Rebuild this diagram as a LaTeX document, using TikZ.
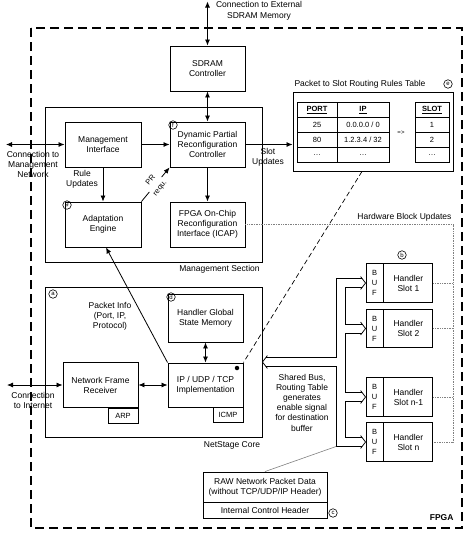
\documentclass[tikz,border=0pt]{standalone}
\usepackage{fontspec}
\setmainfont{Liberation Sans}
\usetikzlibrary{arrows.meta}
\newcommand{\colhead}[1]{\underline{\textbf{#1}}}

\begin{document}
\begin{tikzpicture}[x=1pt, y=-1pt,
            every node/.style={font=\fontsize{8.5}{10}\selectfont},
            box/.style={draw, line width=0.9pt, align=center, inner sep=1pt},
            subbox/.style={draw, line width=0.9pt, minimum width=30pt, minimum height=15pt, inner sep=0pt, font=\fontsize{7.5}{9}\selectfont},
            tag/.style={circle, draw, line width=0.6pt, inner sep=0pt, minimum size=8.5pt, font=\fontsize{6}{6}\selectfont},
            cell/.style={draw, line width=0.7pt, minimum height=15pt, inner sep=0pt, font=\fontsize{7.5}{8}\selectfont},
            link/.style={line width=0.8pt, -{Latex[length=6pt,width=5pt]}},
            link both/.style={line width=0.8pt, {Latex[length=6pt,width=5pt]}-{Latex[length=6pt,width=5pt]}},
            bus/.style={line width=0.75pt},
            hw update/.style={gray, densely dotted, line width=0.7pt},
            rule guide/.style={dash pattern=on 5pt off 3pt, line width=0.7pt},
            fpga/.style={dash pattern=on 9pt off 5pt, line width=1.2pt}]

        \useasboundingbox (0,0) rectangle (474,544);
        \draw[fpga] (31,28) rectangle (462,528);
        \node[font=\fontsize{8.5}{10}\selectfont\bfseries, anchor=east] (fpgalbl) at (457,518) {FPGA};

        \coordinate (sdramext) at (207.5,1.5);
        \coordinate (mnet) at (6,144.5);
        \coordinate (inet) at (7,385);
        \node[align=center, font=\fontsize{8.5}{11}\selectfont] (sdramlbl) at (259,10.5) {Connection to External\\SDRAM Memory};
        \node[box, minimum width=75pt, minimum height=45pt] (sdram) at (207.5,68.5) {SDRAM\\Controller};

        \node[box, minimum width=217pt, minimum height=155pt] (msec) at (153.5,184.5) {};
        \node (mseclbl) at (219.5,269) {Management Section};
        \node[box, minimum width=76pt, minimum height=45pt] (mi) at (103,144.5) {Management\\Interface};
        \node[box, minimum width=75pt, minimum height=45pt] (dpr) at (207.5,144.5) {Dynamic Partial\\Reconfiguration\\Controller};
        \node[box, minimum width=76pt, minimum height=45pt] (ae) at (103,224.5) {Adaptation\\Engine};
        \node[box, minimum width=75pt, minimum height=45pt] (icap) at (207.5,224.5) {FPGA On-Chip\\Reconfiguration\\Interface (ICAP)};
        \node[tag] (tagf) at (173,125) {f};
        \node[tag] (tagg) at (67,205) {g};
        \node[align=center] (mnetlbl) at (33,164) {Connection to\\Management\\Network};
        \node[align=center] (rulelbl) at (82,179) {Rule\\Updates};
        \node[align=center] (slotlbl) at (268,157) {Slot\\Updates};

        \node[box, minimum width=217pt, minimum height=150pt] (core) at (153.5,362) {};
        \node (corelbl) at (232,445) {NetStage Core};
        \node[box, minimum width=75pt, minimum height=48pt] (hgsm) at (205.5,318) {Handler Global\\State Memory};
        \node[box, minimum width=75pt, minimum height=44pt] (ip) at (205.5,385) {IP / UDP / TCP\\Implementation};
        \node[subbox, anchor=north east] (icmp) at (ip.south east) {ICMP};
        \node[box, minimum width=75pt, minimum height=45pt] (nfr) at (100.5,385) {Network Frame\\Receiver};
        \node[subbox, anchor=north east] (arp) at (nfr.south east) {ARP};
        \node[circle, fill, inner sep=0pt, minimum size=4.5pt] (ipdot) at (237,368) {};
        \node[tag] (taga) at (53,294) {a};
        \node[tag] (tagd) at (171,297) {d};
        \node[align=center] (pktlbl) at (110,316) {Packet Info\\(Port, IP,\\Protocol)};
        \node[align=center] (inetlbl) at (33,400) {Connection\\to Internet};

        \draw[link both] (sdramext) -- (sdram);
        \draw[link both] (sdram) -- (dpr);
        \draw[link both] (mnet) -- (mi);
        \draw[link] (mi) -- (dpr);
        \draw[link] (dpr) -- (icap);
        \draw[link] (mi) -- (ae);
        \draw[link] (ae.north east) -- (dpr.south west) node[midway, sloped, fill=white, inner sep=1pt, align=center, font=\fontsize{7.5}{12}\selectfont] (prlbl) {PR\\requ.};
        \draw[link both] (hgsm) -- (ip);
        \draw[link both] (nfr) -- (ip);
        \draw[link both] (inet) -- (nfr);
        \draw[link] (ip.north west) -- ([xshift=3pt]ae.south);

        \node[box, minimum width=160pt, minimum height=79pt] (tbl) at (373,131.5) {};
        \node[anchor=west] (tbllbl) at (291,84) {Packet to Slot Routing Rules Table};
        \node[tag] (tage) at (448,84) {e};
        \foreach \r/\y/\p/\a/\s in {0/110/\colhead{PORT}/\colhead{IP}/\colhead{SLOT},
                1/125/25/{0.0.0.0 / 0}/1, 2/140/80/{1.2.3.4 / 32}/2, 3/155/{\ldots}/{\ldots}/{\ldots}} {
            \node[cell, minimum width=40pt] (port\r) at (317,\y) {\p};
            \node[cell, minimum width=52pt] (ipcol\r) at (363,\y) {\a};
            \node[cell, minimum width=34pt] (slot\r) at (432,\y) {\s};
        }
        \node[font=\fontsize{6}{6}\selectfont] (maps) at (401,133) {=>};
        \draw[link] (dpr) -- (dpr -| tbl.west);
        \draw[rule guide] ([xshift=-11pt]tbl.south) -- (ip.north east);

        \foreach \i/\y/\lbl in {1/283/1, 2/328.5/2, 3/397/n-1, 4/442/n} {
            \node[box, minimum width=17pt, minimum height=38.5pt, font=\fontsize{7.5}{10}\selectfont] (buf\i) at (374.5,\y) {B\\U\\F};
            \node[box, minimum width=49pt, minimum height=38.5pt, anchor=west] (hs\i) at (buf\i.east) {Handler\\Slot \lbl};
            \draw[line width=1.6pt] (buf\i.north east) -- (buf\i.south east);
        }
        \node[tag] (tagb) at (402,255) {b};

        \node[anchor=east] (hwlbl) at (455,217) {Hardware Block Updates};
        \coordinate (hwbus) at (453,224.5);
        \draw[hw update] (icap) -- (hwbus) -- (hwbus |- hs4.east) -- (hs4);
        \foreach \i in {1,2,3}
            \draw[hw update] (hs\i) -- (hwbus |- hs\i.east);

        \draw[bus] ([xshift=-3.2pt,yshift=4.5pt]buf1.west) -- ([xshift=-29.5pt,yshift=4.5pt]buf1.west)
            |- ([xshift=3.2pt,yshift=4.5pt]core.east);
        \draw[bus] ([xshift=3.2pt,yshift=-4.5pt]core.east) -| ([xshift=-29.5pt,yshift=-4.5pt]buf4.west)
            -- ([xshift=-3.2pt,yshift=-4.5pt]buf4.west);
        \foreach \a/\b in {1/2, 2/3, 3/4}
            \draw[bus] ([xshift=-3.2pt,yshift=-4.5pt]buf\a.west) -- ([xshift=-20.5pt,yshift=-4.5pt]buf\a.west)
                -- ([xshift=-20.5pt,yshift=4.5pt]buf\b.west) -- ([xshift=-3.2pt,yshift=4.5pt]buf\b.west);
        \foreach \i in {1,...,4}
            \draw[bus] ([xshift=-5pt,yshift=6.5pt]buf\i.west) -- (buf\i.west) -- ([xshift=-5pt,yshift=-6.5pt]buf\i.west);
        \draw[bus] ([xshift=5pt,yshift=6.5pt]core.east) -- (core.east) -- ([xshift=5pt,yshift=-6.5pt]core.east);
        \node[align=center, font=\fontsize{8.5}{10.2}\selectfont] (buslbl) at (302,402.5) {Shared Bus,\\Routing Table\\generates\\enable signal\\for destination\\buffer};

        \node[box, minimum width=124pt, minimum height=30pt] (raw) at (265,487) {RAW Network Packet Data\\(without TCP/UDP/IP Header)};
        \node[box, minimum width=124pt, minimum height=16pt, anchor=north] (rawhdr) at (raw.south) {Internal Control Header};
        \node[tag] (tagc) at (333,513) {c};
        \draw[gray, line width=0.6pt] (raw.north) -- ([xshift=-29.5pt,yshift=-4.5pt]buf4.west);
    \end{tikzpicture}
\end{document}
